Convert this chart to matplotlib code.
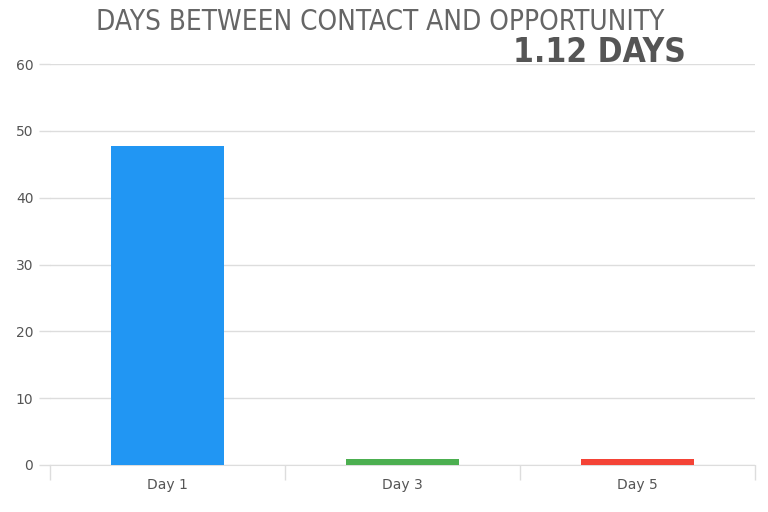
import matplotlib.pyplot as plt

# Chart data
days = ["Day 1", "Day 3", "Day 5"]
counts = [47.8, 0.85, 0.85]
bar_colors = ["#2196F3", "#4CAF50", "#F44336"]
y_ticks = [0, 10, 20, 30, 40, 50, 60]
title = "DAYS BETWEEN CONTACT AND OPPORTUNITY"
average_label = "1.12 DAYS"

plt.rcParams['font.family'] = ['DejaVu Sans']

fig = plt.figure(figsize=(7.68, 5.12), dpi=100)
ax = fig.add_axes([50 / 768, 47 / 512, 705 / 768, 401 / 512])

x = list(range(len(days)))
ax.bar(x, counts, width=0.48, color=bar_colors, zorder=3)

ax.set_xlim(-0.5, len(days) - 0.5)
ax.set_ylim(0, 60)
ax.set_yticks(y_ticks)
ax.set_yticklabels([str(t) for t in y_ticks], fontsize=10, color="#555555")
ax.set_xticks(x)
ax.set_xticklabels(days, fontsize=10, color="#555555")

# category boundary ticks below the axis
ax.set_xticks([i - 0.5 for i in range(len(days) + 1)], minor=True)
ax.tick_params(axis="x", which="minor", length=11, color="#dddddd", width=1)
ax.tick_params(axis="x", which="major", length=0, pad=9)
ax.tick_params(axis="y", length=8, color="#dddddd", width=1, pad=4)

ax.grid(axis="y", color="#dddddd", linewidth=1, zorder=0)
for side in ["top", "right", "left"]:
    ax.spines[side].set_visible(False)
ax.spines["bottom"].set_color("#dddddd")

fig.text(380 / 768, 1 - 22 / 512, title, ha="center", va="center",
         fontsize=20, color="#666666", fontstretch="condensed")
fig.text(686 / 768, 1 - 53 / 512, average_label, ha="right", va="center",
         fontsize=24, color="#555555", fontweight="bold", fontstretch="condensed")

fig.savefig("out.png", dpi=100)
